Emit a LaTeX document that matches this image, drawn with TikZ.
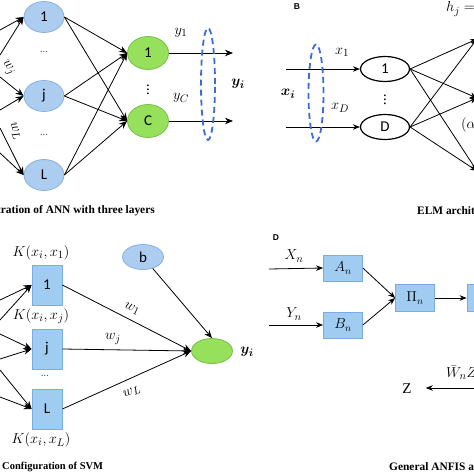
\documentclass[tikz,border=0pt]{standalone}
\usepackage{amsmath,bm}
\usepackage{fontspec}
\setmainfont{Liberation Serif}
\newfontfamily\calfont{Carlito}
\newfontfamily\arialfont{Liberation Sans}
\usetikzlibrary{arrows.meta,shapes.geometric}
\definecolor{nblue}{RGB}{172,205,240}
\definecolor{nbluedraw}{RGB}{135,178,225}
\definecolor{ngreen}{RGB}{150,224,92}
\definecolor{ngreendraw}{RGB}{118,192,70}
\definecolor{bbox}{RGB}{160,204,242}
\definecolor{bboxdraw}{RGB}{122,172,225}
\definecolor{dblue}{RGB}{62,108,212}
\tikzset{
  bluenode/.style={ellipse, fill=nblue, draw=nbluedraw, line width=0.8pt, minimum width=40pt, minimum height=31pt, inner sep=0pt, font=\calfont\fontsize{15}{15}\selectfont},
  greennode/.style={ellipse, fill=ngreen, draw=ngreendraw, line width=0.8pt, minimum width=41pt, minimum height=33pt, inner sep=0pt, font=\calfont\fontsize{15}{15}\selectfont},
  whitenode/.style={ellipse, draw=black, line width=1.2pt, minimum width=49pt, minimum height=25pt, inner sep=0pt, font=\calfont\fontsize{15}{15}\selectfont},
  boxnode/.style={rectangle, fill=bbox, draw=bboxdraw, line width=0.8pt, minimum width=30pt, minimum height=40pt, inner sep=0pt, font=\calfont\fontsize{15}{15}\selectfont},
  anfisbox/.style={rectangle, fill=bbox, draw=bboxdraw, line width=0.8pt, minimum width=39pt, minimum height=26pt, inner sep=0pt, font=\fontsize{14}{14}\selectfont},
  groupring/.style={ellipse, draw=dblue, line width=1.8pt, dash pattern=on 6pt off 4pt, inner sep=0pt},
  conn/.style={line width=0.8pt, -{Stealth[length=8pt,width=6.5pt]}},
  conns/.style={line width=0.8pt, -{Stealth[length=7pt,width=5.5pt]}},
  mlabel/.style={font=\fontsize{15}{15}\selectfont, inner sep=0pt},
  captionstyle/.style={font=\bfseries\fontsize{11.4}{11.4}\selectfont, inner sep=0pt},
  panelletter/.style={font=\arialfont\bfseries\fontsize{8.5}{8.5}\selectfont, inner sep=0pt},
  dotsstyle/.style={font=\calfont\fontsize{10}{10}\selectfont, inner sep=0pt, text=black!70},
}
\begin{document}
\begin{tikzpicture}[x=1pt,y=-1pt]
\useasboundingbox (0,0) rectangle (474,474);
\clip (0,0) rectangle (474,474);
\fill[white] (0,0) rectangle (474,474);

% ---------------- Panel A ----------------
\node[bluenode] (h1) at (44,17) {1};
\node[bluenode] (hj) at (44,96) {j};
\node[bluenode] (hL) at (44,175) {L};
\node[dotsstyle] (da1) at (44,52) {...};
\node[dotsstyle] (da2) at (44,135) {...};
\node[greennode] (o1) at (148,53) {1};
\node[greennode] (oC) at (148,121) {C};
\node[mlabel] (vda) at (148,87) {$\vdots$};
\coordinate (ia1) at (0,30);
\coordinate (ia2) at (0,55);
\coordinate (ia3) at (0,77);
\coordinate (ia4) at (0,110);
\coordinate (ia5) at (0,128);
\coordinate (ia6) at (0,153);
\draw[conn] (ia1) -- (h1.west);
\draw[conn] (ia2) -- (h1.west);
\draw[conn] (ia3) -- (hj.west);
\draw[conn] (ia4) -- (hj.west);
\draw[conn] (ia5) -- (hL.west);
\draw[conn] (ia6) -- (hL.west);
\node[mlabel, rotate=-55] (lwj) at (8,68) {$w_j$};
\node[mlabel, rotate=-70] (lwL) at (15,131) {$w_L$};
\foreach \h in {h1,hj,hL}{
  \draw[conn] (\h.east) -- (o1.west);
  \draw[conn] (\h.east) -- (oC.west);
}
\coordinate (ya1) at (233,53);
\coordinate (yaC) at (233,121);
\draw[conn] (o1.east) -- (ya1);
\draw[conn] (oC.east) -- (yaC);
\node[mlabel] (ly1) at (181,33) {$y_1$};
\node[mlabel] (lyC) at (181,98) {$y_C$};
\node[groupring, minimum width=14pt, minimum height=112pt] (ringA) at (208,84) {};
\node[mlabel] (lyiA) at (238,84) {$\bm{y_i}$};
\node[captionstyle, anchor=east] (capA) at (155,211) {Illustration of ANN with three layers};

% ---------------- Panel B ----------------
\node[panelletter] (lB) at (297,7) {B};
\node[mlabel, anchor=west] (lhj) at (446,9) {$h_j =$};
\coordinate (ib1) at (286,69);
\coordinate (ibD) at (286,127);
\node[whitenode] (e1) at (385,69) {1};
\node[whitenode] (eD) at (385,127) {D};
\draw[conns] (ib1) -- (e1.west);
\draw[conns] (ibD) -- (eD.west);
\node[mlabel] (lx1) at (342,52) {$x_1$};
\node[mlabel] (lxD) at (340,108) {$x_D$};
\node[mlabel] (lxi) at (288,94) {$\bm{x_i}$};
\node[groupring, minimum width=15pt, minimum height=97pt] (ringB) at (316,93) {};
\node[mlabel] (vdb) at (385,97) {$\vdots$};
\coordinate (t1) at (477,39);
\coordinate (t2) at (477,98);
\coordinate (t3) at (477,171);
\foreach \e in {e1,eD}{
  \foreach \t in {t1,t2,t3}{
    \draw[conns] (\e.east) -- (\t);
  }
}
\node[mlabel, anchor=west] (lalpha) at (461,125) {$(\alpha$};
\node[captionstyle, anchor=west] (capB) at (417,211) {ELM architecture};

% ---------------- Panel C ----------------
\node[boxnode] (k1) at (47,285) {1};
\node[boxnode] (kj) at (47,349) {j};
\node[boxnode] (kL) at (47,409) {L};
\node[dotsstyle] (dc) at (45,376) {...};
\node[mlabel] (lk1) at (41,253) {$K(x_i,x_1)$};
\node[mlabel] (lkj) at (41,316) {$K(x_i,x_j)$};
\node[mlabel] (lkL) at (41,440) {$K(x_i,x_L)$};
\coordinate (ic1) at (0,300);
\coordinate (ic2) at (0,320);
\coordinate (ic3) at (0,334);
\coordinate (ic4) at (0,359);
\coordinate (ic5) at (0,370);
\coordinate (ic6) at (0,397);
\draw[conn] (ic1) -- (k1.west);
\draw[conn] (ic2) -- (k1.west);
\draw[conn] (ic3) -- (kj.west);
\draw[conn] (ic4) -- (kj.west);
\draw[conn] (ic5) -- (kL.west);
\draw[conn] (ic6) -- (kL.west);
\node[greennode, minimum width=41pt, minimum height=25pt] (sv) at (212,351) {};
\node[bluenode, minimum width=41pt, minimum height=25pt] (bn) at (143,257) {b};
\draw[conn] (bn) -- (sv.north);
\draw[conn] (k1.east) -- (sv.west);
\draw[conn] (kj.east) -- (sv.west);
\draw[conn] (kL.east) -- (sv.west);
\node[mlabel, rotate=-24] (lw1) at (132,309) {$w_1$};
\node[mlabel] (lwjc) at (113,339) {$w_j$};
\node[mlabel, rotate=22] (lwLc) at (132,392) {$w_L$};
\node[mlabel] (lyiC) at (247,352) {$\bm{y_i}$};
\node[captionstyle, font=\bfseries\fontsize{10.5}{10.5}\selectfont, anchor=west] (capC) at (2,467) {Configuration of SVM};

% ---------------- Panel D ----------------
\node[panelletter] (lD) at (276,238) {D};
\coordinate (idx) at (269,269);
\coordinate (idy) at (269,325);
\node[anfisbox] (An) at (343,268) {$A_n$};
\node[anfisbox] (Bn) at (343,325) {$B_n$};
\node[anfisbox, minimum height=27pt] (Pn) at (415,298) {$\Pi_n$};
\node[anfisbox, minimum height=27pt, minimum width=46pt] (Nn) at (490,298) {};
\node[mlabel] (lXn) at (294,256) {$X_n$};
\node[mlabel] (lYn) at (294,314) {$Y_n$};
\draw[conns] (idx) -- (An.west);
\draw[conns] (idy) -- (Bn.west);
\draw[conns] (An.east) -- (Pn.west);
\draw[conns] (Bn.east) -- (Pn.west);
\draw[conns] (Pn.east) -- (Nn.west);
\node[font=\fontsize{15}{15}\selectfont, inner sep=0pt] (Z) at (407,389) {Z};
\coordinate (wzs) at (476,388);
\draw[conns, shorten >=14pt] (wzs) -- (Z.east |- wzs);
\node[mlabel, anchor=west] (lWZ) at (446,373) {$\bar{W}_n Z$};
\node[captionstyle, anchor=west] (capD) at (389,467) {General ANFIS architecture};
\end{tikzpicture}
\end{document}
